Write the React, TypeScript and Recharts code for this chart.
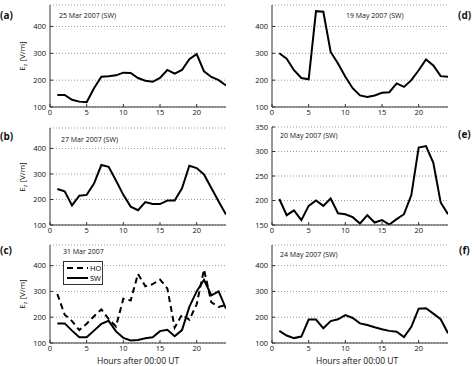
import React from 'react';
import { LineChart, Line, XAxis, YAxis, CartesianGrid } from 'recharts';

const hours = [1, 2, 3, 4, 5, 6, 7, 8, 9, 10, 11, 12, 13, 14, 15, 16, 17, 18, 19, 20, 21, 22, 23, 24];
const mar25SW = [145, 145, 127, 120, 118, 170, 213, 215, 218, 228, 227, 208, 198, 194, 208, 238, 224, 238, 278, 297, 233, 212, 200, 180];
const mar27SW = [241, 232, 177, 215, 218, 262, 335, 328, 274, 218, 172, 158, 190, 182, 182, 196, 196, 244, 332, 323, 298, 245, 192, 141];
const mar31SW = [176, 176, 148, 122, 122, 148, 174, 186, 145, 120, 110, 112, 118, 122, 146, 151, 126, 150, 240, 300, 345, 285, 300, 233];
const mar31HO = [290, 210, 185, 150, 175, 204, 230, 193, 164, 272, 265, 368, 320, 328, 346, 312, 160, 210, 190, 250, 385, 258, 240, 248];
const may19SW = [300, 280, 237, 208, 203, 457, 455, 305, 262, 213, 170, 143, 137, 143, 153, 155, 188, 175, 200, 237, 277, 255, 215, 213];
const may20SW = [203, 170, 180, 160, 189, 200, 189, 204, 174, 172, 166, 153, 170, 155, 160, 151, 162, 172, 211, 308, 311, 277, 196, 172];
const may24SW = [147, 129, 119, 125, 191, 191, 157, 185, 192, 208, 197, 176, 170, 161, 153, 147, 144, 123, 163, 233, 235, 214, 192, 138];

const xTicks = [0, 5, 10, 15, 20];
const yTicksMain = [100, 200, 300, 400];
const yTicksE = [150, 200, 250, 300, 350];

const FONT = '"Open Sans", "Noto Sans", sans-serif';

type SeriesDef = { key: string; values: number[]; dash?: string };

function build(series: SeriesDef[]) {
  return hours.map((h, i) => {
    const row: Record<string, number> = { hour: h };
    series.forEach((s) => {
      row[s.key] = s.values[i];
    });
    return row;
  });
}

type PanelProps = {
  left: number;
  top: number;
  w: number;
  h: number;
  series: SeriesDef[];
  yDomain: [number, number];
  yTicks: number[];
};

function Panel({ left, top, w, h, series, yDomain, yTicks }: PanelProps) {
  const YW = 45;
  const MT = 8;
  const MR = 3;
  const XH = 16;
  const data = build(series);
  const tickStyle = { fontSize: 7.5, fill: '#111', fontFamily: FONT };
  return (
    <div style={{ position: 'absolute', left: left - YW, top: top - MT }}>
      <LineChart width={YW + w + MR} height={MT + h + XH} data={data} margin={{ top: MT, right: MR, left: 0, bottom: 0 }}>
        <CartesianGrid xAxisId="b" yAxisId="l" horizontal vertical={false} stroke="#9a9a9a" strokeDasharray="1 2" />
        <XAxis xAxisId="b" dataKey="hour" type="number" domain={[0, 24]} ticks={xTicks} interval={0} orientation="bottom" height={XH} tickSize={-3} tickMargin={6} stroke="#333" tick={tickStyle} allowDataOverflow />
        <XAxis xAxisId="t" dataKey="hour" type="number" domain={[0, 24]} ticks={xTicks} interval={0} orientation="top" height={0} tickSize={-3} tick={false} stroke="#333" allowDataOverflow />
        <YAxis yAxisId="l" type="number" domain={yDomain} ticks={yTicks} interval={0} width={YW} tickSize={-3} tickMargin={7} stroke="#333" tick={tickStyle} allowDataOverflow />
        <YAxis yAxisId="r" orientation="right" type="number" domain={yDomain} ticks={yTicks} interval={0} width={0} tickSize={-3} tick={false} stroke="#333" allowDataOverflow />
        {series.map((s) => (
          <Line key={s.key} xAxisId="b" yAxisId="l" type="linear" dataKey={s.key} stroke="#000" strokeWidth={2} strokeDasharray={s.dash} dot={false} isAnimationActive={false} />
        ))}
      </LineChart>
    </div>
  );
}

function Txt({ x, y, children, size = 7, bold = false }: { x: number; y: number; children: React.ReactNode; size?: number; bold?: boolean }) {
  return (
    <div style={{ position: 'absolute', left: x, top: y, transform: 'translateY(-50%)', fontSize: size, fontWeight: bold ? 700 : 400, fontFamily: FONT, color: '#111', whiteSpace: 'nowrap', lineHeight: 1 }}>
      {children}
    </div>
  );
}

function YLabel({ cx, cy }: { cx: number; cy: number }) {
  return (
    <div style={{ position: 'absolute', left: cx, top: cy, transform: 'translate(-50%,-50%) rotate(-90deg)', fontSize: 8, fontFamily: FONT, color: '#111', whiteSpace: 'nowrap', lineHeight: 1 }}>
      E<sub style={{ fontSize: 5.5, verticalAlign: 'baseline', position: 'relative', top: 2 }}>z</sub> [V/m]
    </div>
  );
}

export default function App() {
  return (
    <div style={{ position: 'absolute', left: 0, top: 0, width: 474, height: 366, background: '#fff', overflow: 'hidden' }}>
      <Panel left={50} top={5} w={176} h={102} series={[{ key: 'sw', values: mar25SW }]} yDomain={[100, 480]} yTicks={yTicksMain} />
      <Panel left={50} top={128} w={176} h={97} series={[{ key: 'sw', values: mar27SW }]} yDomain={[100, 480]} yTicks={yTicksMain} />
      <Panel left={50} top={245} w={176} h={98} series={[{ key: 'ho', values: mar31HO, dash: '6 4' }, { key: 'sw', values: mar31SW }]} yDomain={[100, 480]} yTicks={yTicksMain} />
      <Panel left={272} top={5} w={176} h={102} series={[{ key: 'sw', values: may19SW }]} yDomain={[100, 480]} yTicks={yTicksMain} />
      <Panel left={272} top={127} w={176} h={98} series={[{ key: 'sw', values: may20SW }]} yDomain={[150, 350]} yTicks={yTicksE} />
      <Panel left={272} top={245} w={176} h={98} series={[{ key: 'sw', values: may24SW }]} yDomain={[100, 480]} yTicks={yTicksMain} />

      <Txt x={59} y={15}>25 Mar 2007 (SW)</Txt>
      <Txt x={61} y={139}>27 Mar 2007 (SW)</Txt>
      <Txt x={63} y={251}>31 Mar 2007</Txt>
      <Txt x={346} y={15}>19 May 2007 (SW)</Txt>
      <Txt x={280} y={135}>20 May 2007 (SW)</Txt>
      <Txt x={280} y={254}>24 May 2007 (SW)</Txt>

      <Txt x={0} y={15} size={10} bold>(a)</Txt>
      <Txt x={0} y={136} size={10} bold>(b)</Txt>
      <Txt x={0} y={250} size={10} bold>(c)</Txt>
      <Txt x={458} y={15} size={10} bold>(d)</Txt>
      <Txt x={458} y={134} size={10} bold>(e)</Txt>
      <Txt x={459} y={250} size={10} bold>(f)</Txt>

      <YLabel cx={22} cy={56} />
      <YLabel cx={22} cy={177} />
      <YLabel cx={22} cy={294} />

      <div style={{ position: 'absolute', left: 63, top: 261, width: 40, height: 24, border: '1px solid #333', background: '#fff', boxSizing: 'border-box' }}>
        <svg width={38} height={22} style={{ position: 'absolute', left: 0, top: 0 }}>
          <line x1={3} y1={6} x2={24} y2={6} stroke="#000" strokeWidth={2} strokeDasharray="6 4" />
          <line x1={3} y1={16} x2={24} y2={16} stroke="#000" strokeWidth={2} />
        </svg>
        <div style={{ position: 'absolute', left: 26, top: 1, fontSize: 7.5, fontFamily: FONT, lineHeight: '10px' }}>HO</div>
        <div style={{ position: 'absolute', left: 26, top: 11, fontSize: 7.5, fontFamily: FONT, lineHeight: '10px' }}>SW</div>
      </div>

      <div style={{ position: 'absolute', left: 138, top: 361, transform: 'translate(-50%,-50%)', fontSize: 8.5, fontFamily: FONT, color: '#111', whiteSpace: 'nowrap', lineHeight: 1 }}>Hours after 00:00 UT</div>
      <div style={{ position: 'absolute', left: 357, top: 361, transform: 'translate(-50%,-50%)', fontSize: 8.5, fontFamily: FONT, color: '#111', whiteSpace: 'nowrap', lineHeight: 1 }}>Hours after 00:00 UT</div>
    </div>
  );
}
